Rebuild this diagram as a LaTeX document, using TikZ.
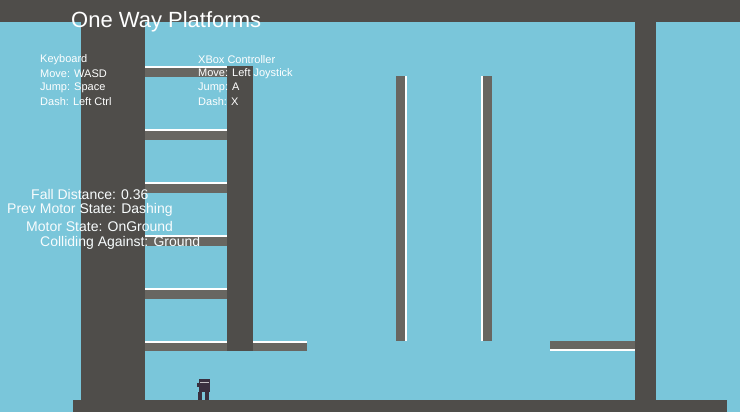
\documentclass[tikz,border=0pt]{standalone}
\usepackage{fontspec}
\setmainfont{Liberation Sans}
\definecolor{sky}{HTML}{7AC6DA}
\definecolor{wall}{HTML}{4F4D4A}
\definecolor{plat}{HTML}{686661}
\definecolor{ninja}{HTML}{3A3040}
\begin{document}
\begin{tikzpicture}[x=1pt,y=-1pt,
  txt/.style={text=white,anchor=west,inner sep=0pt,font=\fontsize{11}{11}\selectfont},
  dbg/.style={text=white!95!sky,anchor=west,inner sep=0pt,font=\fontsize{14}{14}\selectfont}]
\useasboundingbox (0,0) rectangle (740,412);
\fill[sky] (0,0) rectangle (740,412);
\fill[wall] (0,0) rectangle (740,22);
\fill[wall] (81,22) rectangle (145,400);
\fill[wall] (635,22) rectangle (656,400);
\fill[wall] (73,400) rectangle (727,412);
% horizontal platforms
\foreach \y in {66,129,182,235,288}{
  \fill[white] (145,\y) rectangle (227,\y+2);
  \fill[plat] (145,\y+2) rectangle (227,\y+11);
}
\fill[white] (145,341) rectangle (307,343);
\fill[plat] (145,343) rectangle (307,351);
\fill[wall] (227,66) rectangle (253,351);
% vertical platforms
\fill[plat] (396,76) rectangle (405,341);
\fill[white] (405,76) rectangle (407,341);
\fill[white] (481,76) rectangle (483,341);
\fill[plat] (483,76) rectangle (492,341);
% right platform
\fill[plat] (550,341) rectangle (635,349);
\fill[white] (550,349) rectangle (635,351);
% character
\fill[ninja] (199,379) rectangle (210,392);
\fill[ninja] (197,383) rectangle (199,387);
\fill[ninja] (198,392) rectangle (202,400);
\fill[ninja] (205,392) rectangle (209,400);
\fill[white!70!ninja] (200,382) rectangle (209,383);
% texts
\node[anchor=west,text=white,inner sep=0pt,font=\fontsize{22}{22}\selectfont] (title) at (71,22) {One Way Platforms};
\node[txt] (k1) at (40,60) {Keyboard};
\node[txt] (k2) at (40,74) {Move: WASD};
\node[txt] (k3) at (40,88) {Jump: Space};
\node[txt] (k4) at (40,102) {Dash: Left Ctrl};
\node[txt] (x1) at (198,60) {XBox Controller};
\node[txt] (x2) at (198,74) {Move: Left Joystick};
\node[txt] (x3) at (198,88) {Jump: A};
\node[txt] (x4) at (198,102) {Dash: X};
\node[dbg] (d1) at (31,194) {Fall Distance: 0.36};
\node[dbg] (d2) at (7,210) {Prev Motor State: Dashing};
\node[dbg] (d3) at (26,226) {Motor State: OnGround};
\node[dbg] (d4) at (40,243) {Colliding Against: Ground};
\end{tikzpicture}
\end{document}
